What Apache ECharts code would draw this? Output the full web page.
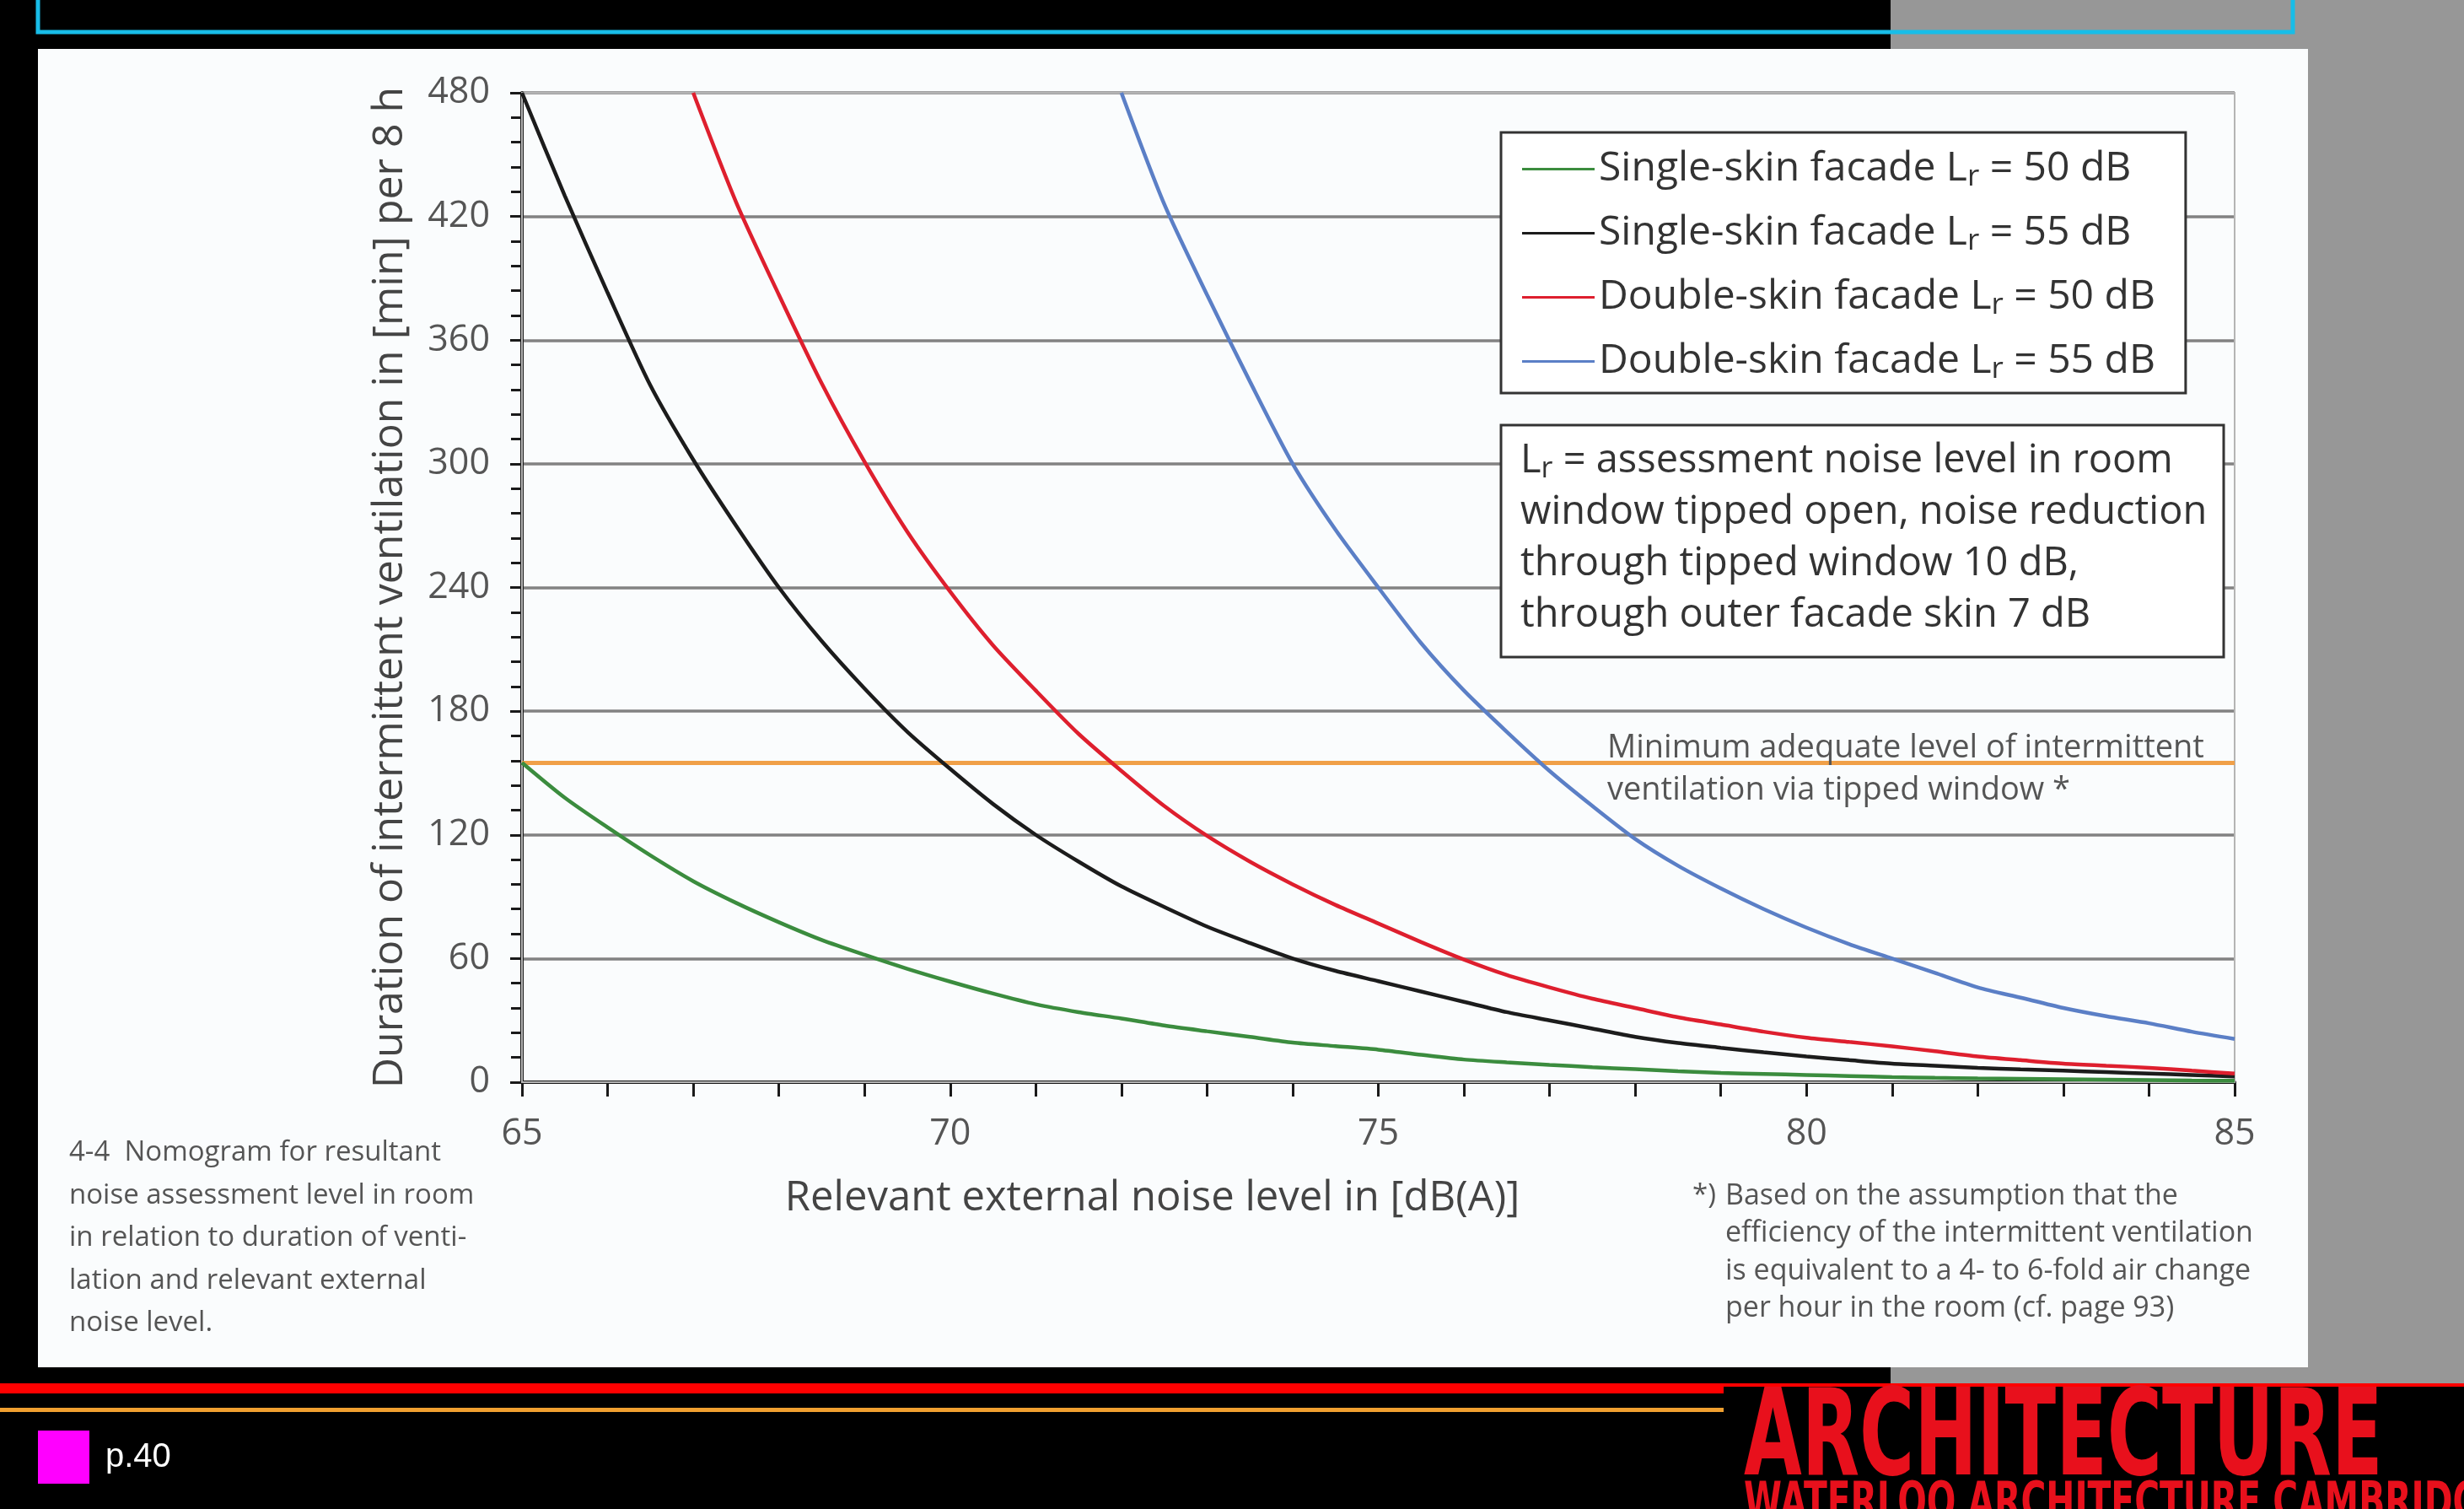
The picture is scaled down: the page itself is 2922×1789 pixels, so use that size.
<!DOCTYPE html>
<html><head><meta charset="utf-8">
<script src="https://cdn.jsdelivr.net/npm/echarts@6/dist/echarts.min.js"></script>
<style>html,body{margin:0;padding:0;background:#000;overflow:hidden}#chart{width:2922px;height:1789px;}</style>
</head><body><div id="chart"></div>
<script>
// ---- data ----
const noiseLevels = [65,65.5,66,66.5,67,67.5,68,68.5,69,69.5,70,70.5,71,71.5,72,72.5,73,73.5,74,74.5,75,75.5,76,76.5,77,77.5,78,78.5,79,79.5,80,80.5,81,81.5,82,82.5,83,83.5,84,84.5,85];
const singleSkin50 = [155,138,123.6,110,97.5,87,77.6,69,61.8,55,48.8,43,37.8,34,30.9,27.5,24.7,22,19.2,17.5,15.8,13.3,11,9.6,8.4,7.3,6.3,5.3,4.5,4,3.5,3,2.5,2.1,1.8,1.6,1.4,1.2,1,0.8,0.7];
const singleSkin55 = [480,430,383,338,302,270,240,214,191,170,152,135,120,107,95,85,75.5,67.5,60,54,49,44,39,34,30,26,22,19,16.7,14.5,12.5,10.7,9,8,7,6.2,5.6,4.9,4.2,3.5,2.8];
const doubleSkin50 = [null,null,null,null,480,427,382,339,301,267,238,212,190,169,151,134,119.5,107,96,86,77,68,59.5,52,46,40.5,36,31.5,28,24.5,21.6,19.5,17.4,15,12.5,10.7,9,8,7,5.6,4.2];
const doubleSkin55 = [null,null,null,null,null,null,null,null,null,null,null,null,null,null,480,426,382,340,300,268,240,213,190,170,151,134,118,105,94,84,75,67,60,53,46,41,36,32,28.6,24.5,21];
const minimumLevel = 155;
const seriesNames = ['Single-skin facade Lr = 50 dB','Single-skin facade Lr = 55 dB','Double-skin facade Lr = 50 dB','Double-skin facade Lr = 55 dB'];
const seriesColors = ['#3b8c3e','#1c1c1c','#de1f2e','#5b7fc6'];
const xRange = [65, 85, 5];
const yRange = [0, 480, 60];
const xAxisTitle = 'Relevant external noise level in [dB(A)]';
const yAxisTitle = 'Duration of intermittent ventilation in [min] per 8 h';
const noteLines = ['{m|L}{s|r}{m| = assessment noise level in room}','{m|window tipped open, noise reduction}','{m|through tipped window 10 dB,}','{m|through outer facade skin 7 dB}'];
const minimumLabel = ['Minimum adequate level of intermittent','ventilation via tipped window *'];
const captionLines = ['4-4  Nomogram for resultant','noise assessment level in room','in relation to duration of venti-','lation and relevant external','noise level.'];
const footnoteLines = ['Based on the assumption that the','efficiency of the intermittent ventilation','is equivalent to a 4- to 6-fold air change','per hour in the room (cf. page 93)'];

const FONT = '"Open Sans", "Noto Sans", sans-serif';
const seriesValues = [singleSkin50, singleSkin55, doubleSkin50, doubleSkin55];

function pairs(vals){ const out=[]; vals.forEach((v,i)=>{ if(v!==null) out.push([noiseLevels[i], v]); }); return out; }

const series = seriesNames.map((n,i)=>({
  name:n, type:'line', data:pairs(seriesValues[i]), showSymbol:false, symbol:'none',
  smooth:0.25, lineStyle:{color:seriesColors[i], width:4.5}, itemStyle:{color:seriesColors[i]}, z:5
}));
series.push({
  name:'minimum', type:'line', data:[], silent:true,
  markLine:{symbol:'none', silent:true, label:{show:false},
    lineStyle:{color:'#f0a048', width:5, type:'solid'},
    data:[[{coord:[xRange[0], minimumLevel]},{coord:[xRange[1], minimumLevel]}]]},
  z:4
});

const graphics = [
  {type:'rect', z:-100, shape:{x:2242,y:0,width:680,height:1640}, style:{fill:'#979797'}},
  {type:'rect', z:-99, shape:{x:45,y:-10,width:2674,height:48}, style:{fill:'none', stroke:'#18bde8', lineWidth:5}},
  {type:'rect', z:-98, shape:{x:45,y:58,width:2692,height:1563}, style:{fill:'#fafcfd'}},
  {type:'rect', z:-97, shape:{x:0,y:1640,width:2044,height:12}, style:{fill:'#ff0000'}},
  {type:'rect', z:-97, shape:{x:2044,y:1640,width:878,height:4}, style:{fill:'#ff0000'}},
  {type:'rect', z:-97, shape:{x:0,y:1669,width:2044,height:5}, style:{fill:'#f0a030'}},
  {type:'rect', z:-97, shape:{x:45,y:1696,width:61,height:63}, style:{fill:'#ff00ff'}},
  {type:'text', z:10, x:125, y:1728, style:{text:'p.40', fill:'#ffffff', font:'40px "Liberation Sans", sans-serif', verticalAlign:'middle'}},
  {type:'text', z:10, x:2068, y:1640, scaleX:0.695, originX:0, originY:0, style:{text:'ARCHITECTURE', fill:'#e8101c', font:'bold 142px "Liberation Sans Narrow", "DejaVu Sans Condensed", sans-serif', verticalAlign:'top'}},
  {type:'text', z:10, x:2068, y:1754, scaleX:0.73, originX:0, originY:0, style:{text:'WATERLOO ARCHITECTURE CAMBRIDGE', fill:'#e8101c', font:'bold 62px "Liberation Sans Narrow", "DejaVu Sans Condensed", sans-serif', verticalAlign:'top'}},
  // assumption note box
  {type:'rect', z:20, shape:{x:1780,y:504,width:857,height:275}, style:{fill:'#ffffff', stroke:'#333333', lineWidth:3}},
  {type:'text', z:21, x:1803, y:516, style:{text:noteLines.join('\n'), fill:'#333333', font:'47px '+FONT,
    rich:{m:{fontSize:47, fontFamily:FONT, fill:'#333333', lineHeight:61}, s:{fontSize:34, fontFamily:FONT, fill:'#333333', lineHeight:61, padding:[20,0,0,0]}}}},
  // minimum line annotation
  {type:'text', z:21, x:1906, y:887, style:{text:minimumLabel[0], fill:'#555555', font:'38px '+FONT, verticalAlign:'middle'}},
  {type:'text', z:21, x:1906, y:937, style:{text:minimumLabel[1], fill:'#555555', font:'38px '+FONT, verticalAlign:'middle'}},
];
captionLines.forEach((t,i)=>graphics.push({type:'text', z:21, x:82, y:1367+i*50.5, style:{text:t, fill:'#555555', font:'33px '+FONT, verticalAlign:'middle'}}));
graphics.push({type:'text', z:21, x:2007, y:1418, style:{text:'*)', fill:'#555555', font:'33px '+FONT, verticalAlign:'middle'}});
footnoteLines.forEach((t,i)=>graphics.push({type:'text', z:21, x:2046, y:1418+i*44.5, style:{text:t, fill:'#555555', font:'34px '+FONT, verticalAlign:'middle'}}));

const chart = echarts.init(document.getElementById('chart'));
chart.setOption({
  backgroundColor:'#000000',
  animation:false,
  textStyle:{fontFamily:FONT},
  grid:{left:619, top:110, width:2031, height:1173, show:true, borderColor:'#b4b4b4', borderWidth:2, backgroundColor:'transparent', z:1},
  xAxis:{type:'value', min:xRange[0], max:xRange[1], interval:xRange[2],
    name:xAxisTitle, nameLocation:'middle', nameGap:114,
    nameTextStyle:{fontSize:49, color:'#444444', fontFamily:FONT, padding:[0,536,0,0]},
    axisLine:{lineStyle:{color:'#1a1a1a', width:4}},
    axisTick:{length:17, lineStyle:{color:'#1a1a1a', width:3}},
    minorTick:{show:true, splitNumber:5, length:17, lineStyle:{color:'#1a1a1a', width:3}},
    axisLabel:{fontSize:43, color:'#555555', margin:40, fontFamily:FONT},
    splitLine:{show:false}},
  yAxis:{type:'value', min:yRange[0], max:yRange[1], interval:yRange[2],
    name:yAxisTitle, nameLocation:'middle', nameGap:131, nameRotate:90,
    nameTextStyle:{fontSize:50, color:'#444444', fontFamily:FONT},
    axisLine:{show:true, lineStyle:{color:'#1a1a1a', width:4}},
    axisTick:{show:true, length:14, lineStyle:{color:'#1a1a1a', width:3}},
    minorTick:{show:true, splitNumber:5, length:13, lineStyle:{color:'#1a1a1a', width:3}},
    axisLabel:{fontSize:43, color:'#555555', margin:38, fontFamily:FONT},
    splitLine:{show:true, lineStyle:{color:'#828282', width:3.5}}},
  legend:{data:seriesNames, orient:'vertical', left:1780, top:157,
    backgroundColor:'#ffffff', borderColor:'#333333', borderWidth:3,
    padding:[16,36,10,25], itemGap:21, itemWidth:86, itemHeight:3, icon:'rect',
    selectedMode:false, z:20,
    formatter:function(n){ const p=n.split('Lr'); return '{m|'+p[0]+'L}{s|r}{m|'+p[1]+'}'; },
    textStyle:{color:'#333333', fontSize:48, fontFamily:FONT,
      rich:{m:{fontSize:48, fontFamily:FONT, color:'#333333', lineHeight:54}, s:{fontSize:35, fontFamily:FONT, color:'#333333', lineHeight:54, padding:[20,0,0,0]}}}},
  graphic:graphics,
  series:series
});
</script></body></html>
